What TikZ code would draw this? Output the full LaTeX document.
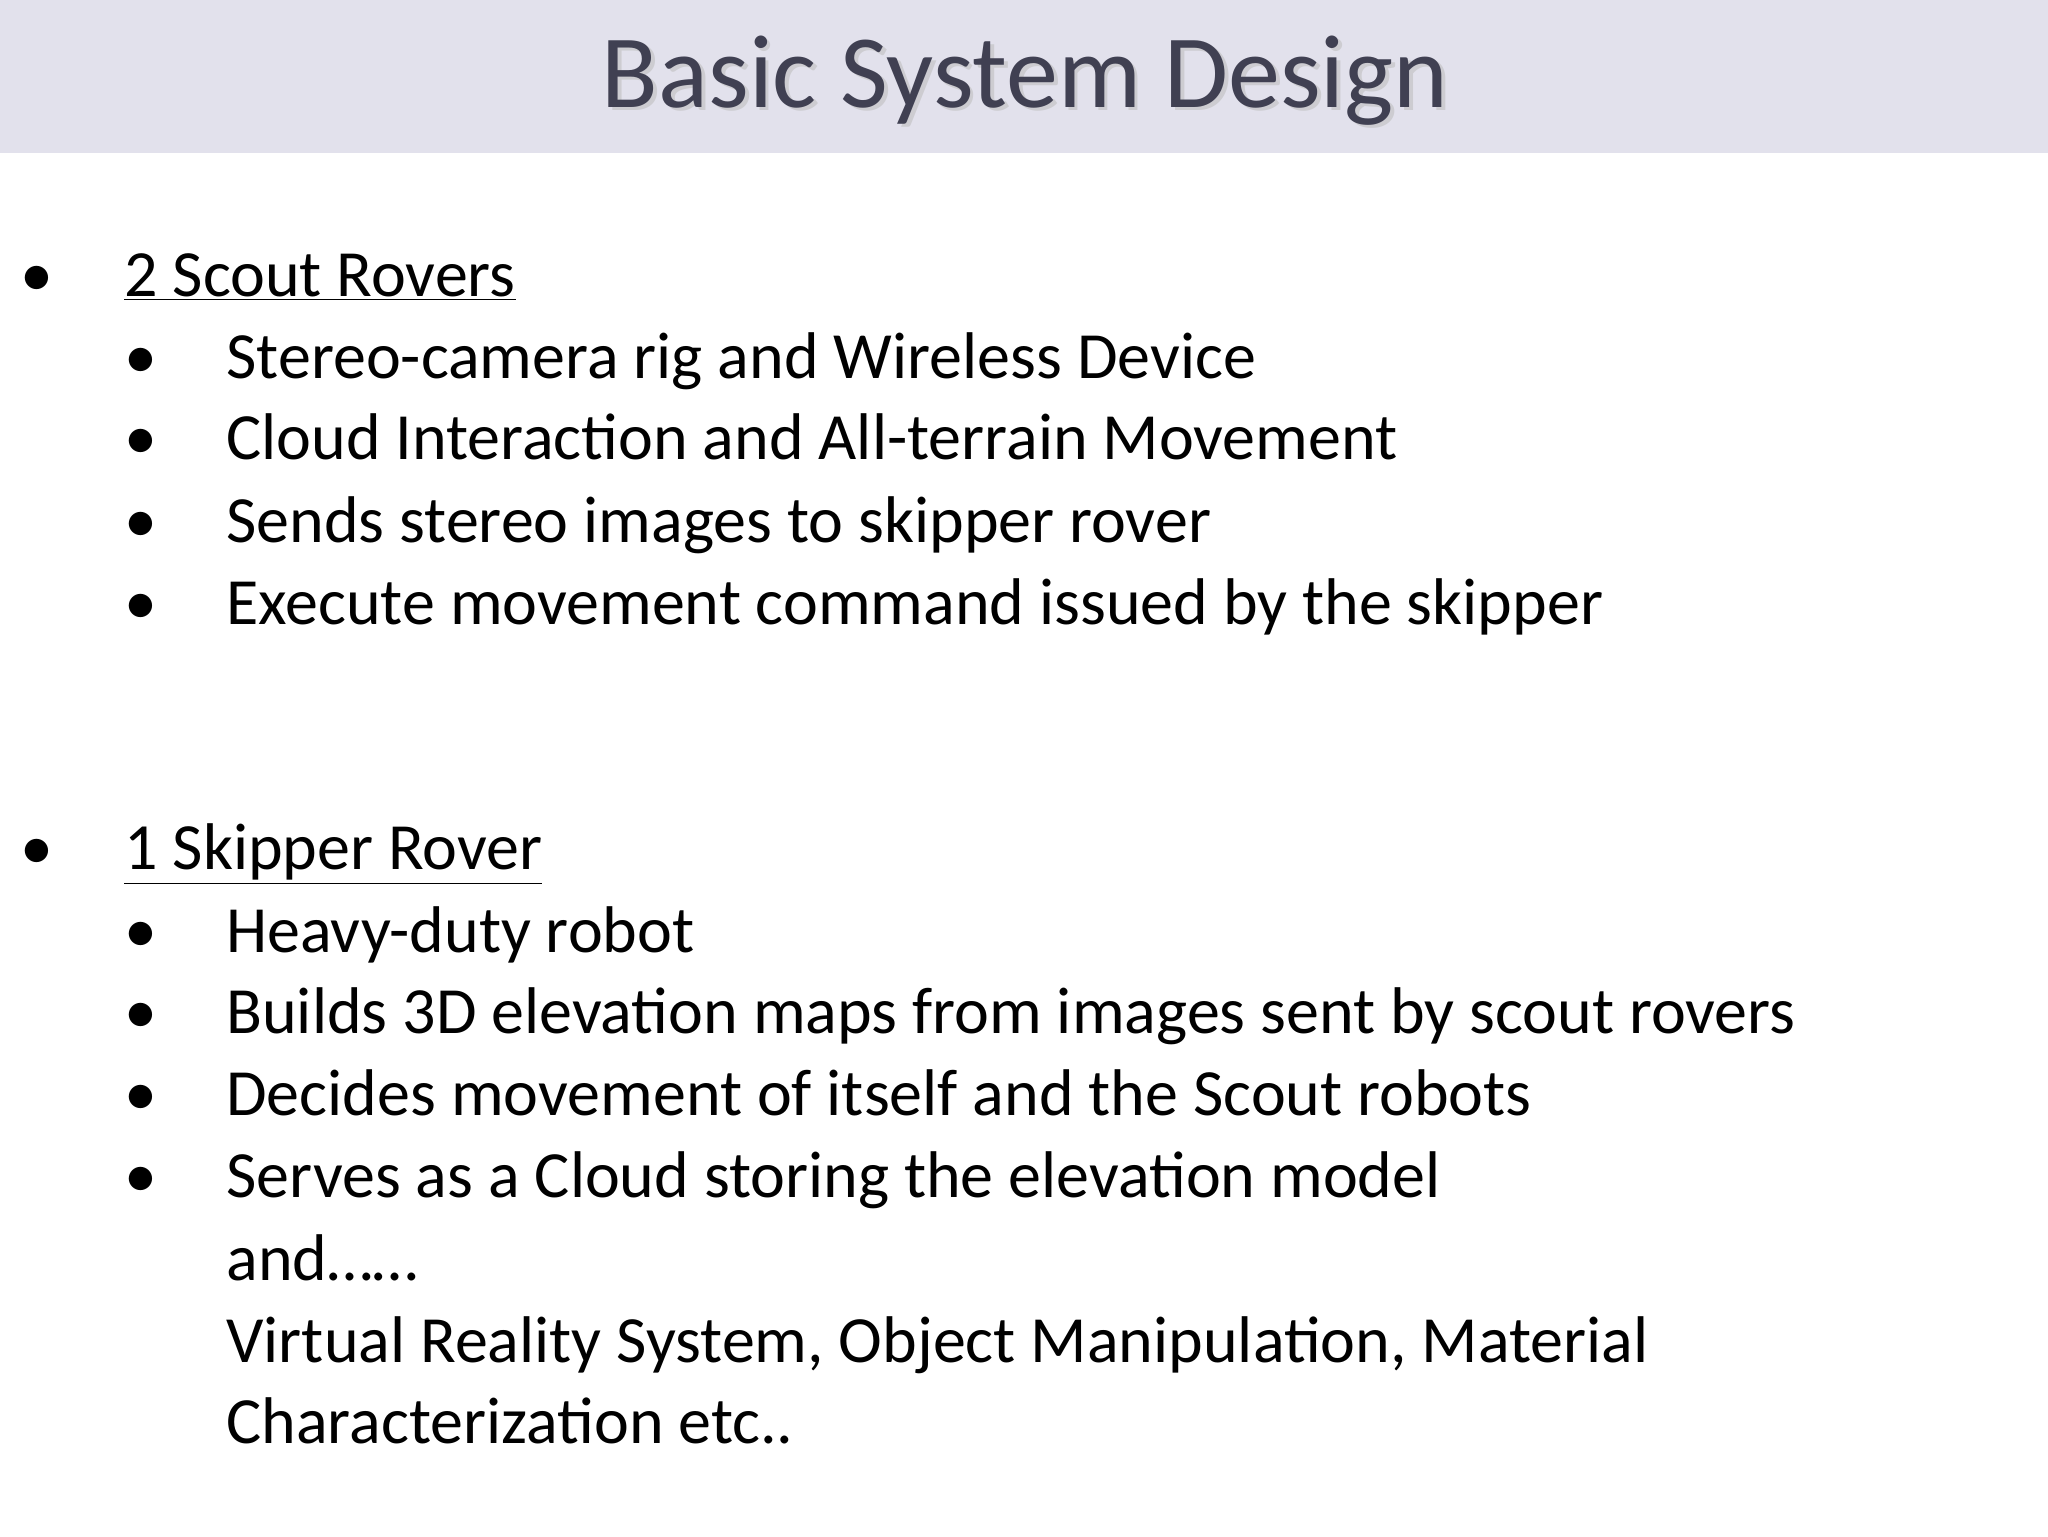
\documentclass[tikz,border=0pt]{standalone}
\usepackage{fontspec}
\setmainfont{Carlito}
\definecolor{band}{RGB}{226,225,236}
\definecolor{titlec}{RGB}{64,64,82}
\newcommand{\bodysize}{\fontsize{33}{40}\selectfont}
\begin{document}
\begin{tikzpicture}[x=1pt,y=-1pt,
  txt/.style={anchor=base west,inner sep=0pt,font=\bodysize},
  bul/.style={anchor=base west,inner sep=0pt,font=\bodysize}]
\useasboundingbox (0,0) rectangle (1024,768);
\fill[band] (0,0) rectangle (1024,76.4);
\node[anchor=base,inner sep=0pt,font=\fontsize{52}{60}\selectfont,text=gray!50,opacity=0.6] at (514.5,55.5) {Basic System Design};
\node (title)[anchor=base,inner sep=0pt,font=\fontsize{52}{60}\selectfont,text=titlec] at (512.6,53.5) {Basic System Design};
\foreach \y/\t/\n in {148.2/{\underline{2 Scout Rovers}}/a, 434.9/{\underline{1 Skipper Rover}}/b}{
  \node[bul] (b\n) at (10,\y) {•};
  \node[txt] (t\n) at (62,\y) {\t};
}
\foreach \y/\t/\n in {189.4/{Stereo-camera rig and Wireless Device}/1,
  229.9/{Cloud Interaction and All-terrain Movement}/2,
  271.0/{Sends stereo images to skipper rover}/3,
  312.1/{Execute movement command issued by the skipper}/4,
  476.0/{Heavy-duty robot}/5,
  516.5/{Builds 3D elevation maps from images sent by scout rovers}/6,
  557.7/{Decides movement of itself and the Scout robots}/7,
  598.8/{Serves as a Cloud storing the elevation model}/8}{
  \node[bul] (c\n) at (62,\y) {•};
  \node[txt] (s\n) at (113,\y) {\t};
}
\node[txt] (l1) at (113,640.0) {and……};
\node[txt] (l2) at (113,681.1) {Virtual Reality System, Object Manipulation, Material};
\node[txt] (l3) at (113,721.6) {Characterization etc..};
\end{tikzpicture}
\end{document}
